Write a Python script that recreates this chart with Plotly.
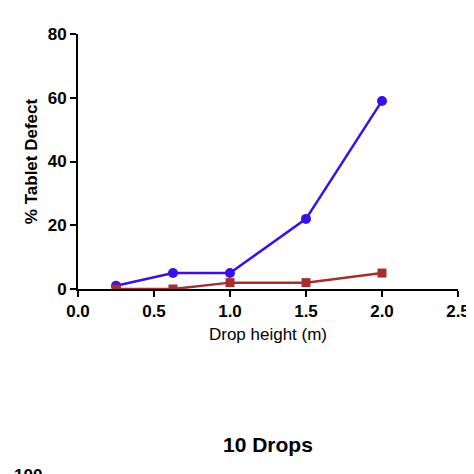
import plotly.graph_objects as go

heights = [0.25, 0.625, 1.0, 1.5, 2.0]
defect_a = [1, 5, 5, 22, 59]
defect_b = [0, 0, 2, 2, 5]

fig = go.Figure()
fig.add_trace(go.Scatter(x=heights, y=defect_a, mode="lines+markers",
                         line=dict(color="#3a10e5", width=2.5),
                         marker=dict(symbol="circle", size=10, color="#3a10e5")))
fig.add_trace(go.Scatter(x=heights, y=defect_b, mode="lines+markers",
                         line=dict(color="#a3302f", width=2.5),
                         marker=dict(symbol="square", size=9, color="#a3302f")))

bold = dict(family="Liberation Sans", size=17, color="black", weight="bold")
fig.update_layout(
    width=474, height=474, showlegend=False,
    plot_bgcolor="white", paper_bgcolor="white",
    margin=dict(l=70, r=24, t=26, b=193),
    font=dict(family="Liberation Sans", color="black"),
    xaxis=dict(range=[0, 2.5], tickvals=[0, 0.5, 1.0, 1.5, 2.0, 2.5],
               ticktext=["0.0", "0.5", "1.0", "1.5", "2.0", "2.5"],
               showgrid=False, zeroline=False, showline=True, linecolor="black", linewidth=2,
               ticks="outside", ticklen=6, tickwidth=2, tickcolor="black",
               tickfont=bold,
               title=dict(text="Drop height (m)", font=dict(family="Liberation Sans", size=17), standoff=8)),
    yaxis=dict(range=[0, 80], tickvals=[0, 20, 40, 60, 80],
               showgrid=False, zeroline=False, showline=True, linecolor="black", linewidth=2,
               ticks="outside", ticklen=6, tickwidth=2, tickcolor="black",
               tickfont=bold,
               title=dict(text="% Tablet Defect", font=bold, standoff=6)),
    annotations=[
        dict(text="10 Drops", x=0.5, y=-0.61, xref="paper", yref="paper",
             showarrow=False, font=dict(family="Liberation Sans", size=21, color="black", weight="bold"),
             xanchor="center", yanchor="middle"),
        dict(text="100", x=-0.09, y=-0.73, xref="paper", yref="paper",
             showarrow=False, font=bold, xanchor="right", yanchor="middle"),
    ],
)

fig.write_html("out.html")
